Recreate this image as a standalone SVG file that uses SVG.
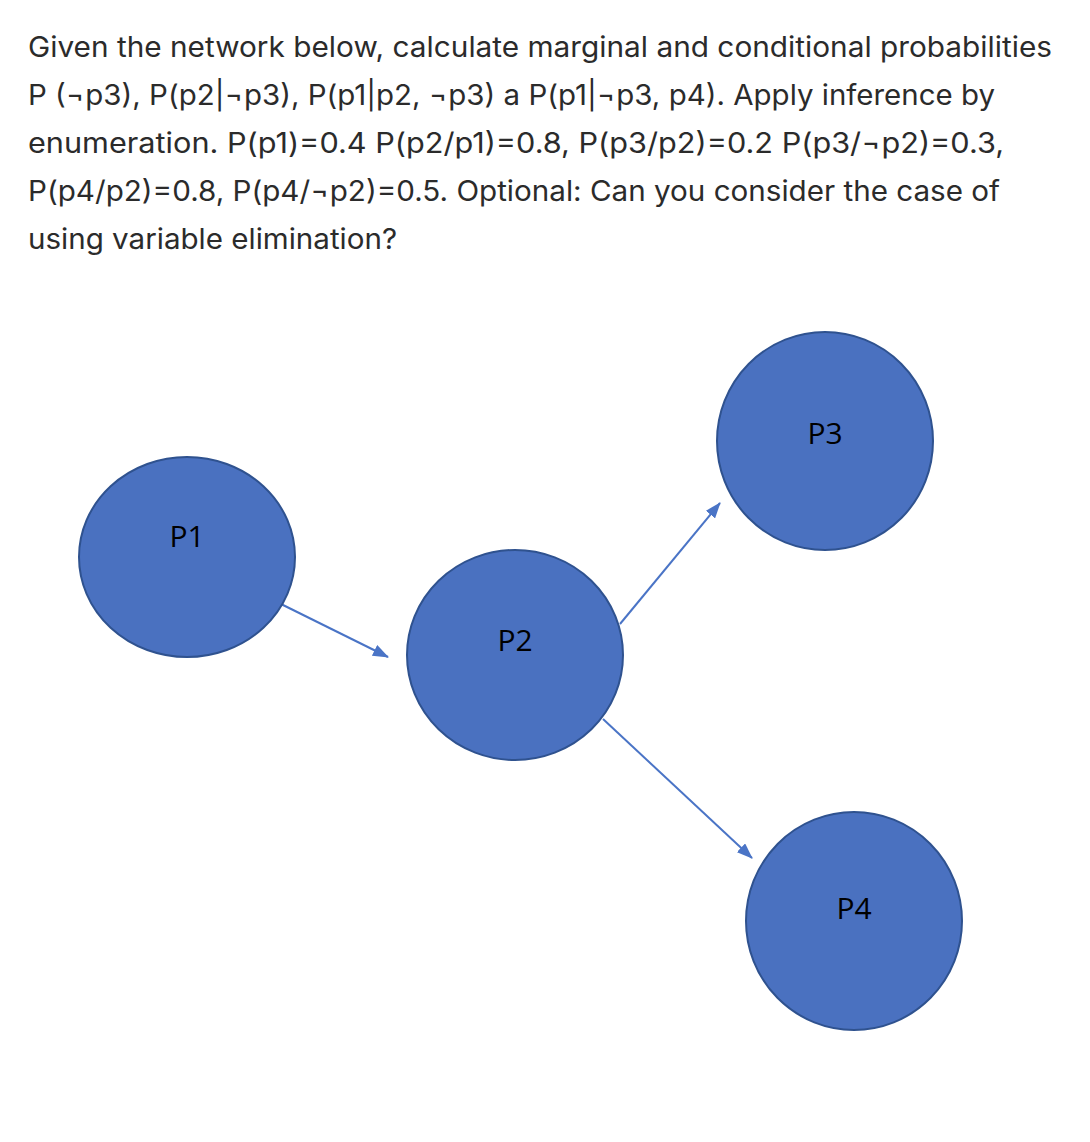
<svg xmlns="http://www.w3.org/2000/svg" width="1090" height="1142" viewBox="0 0 1090 1142">
<style>
.q{font-family:Inter,"Liberation Sans",sans-serif;font-size:28px;fill:#2b2b2b}
.n{fill:#4a71c0;stroke:#2f528f;stroke-width:2}
.l{font-family:"Open Sans","DejaVu Sans",sans-serif;font-size:30px;fill:#000;text-anchor:middle}
.c{stroke:#4a74c6;stroke-width:2;fill:none;marker-end:url(#a)}
</style>
<defs><marker id="a" markerWidth="16" markerHeight="12" refX="15" refY="6" orient="auto" markerUnits="userSpaceOnUse" viewBox="0 0 16 12"><path d="M0,0 L16,6 L0,12 z" fill="#4a74c6"/></marker></defs>
<rect width="1090" height="1142" fill="#fff"/>
<g id="question">
<text class="q" x="28" y="57" textLength="1024" lengthAdjust="spacingAndGlyphs">Given the network below, calculate marginal and conditional probabilities</text>
<text class="q" x="28" y="105" textLength="967" lengthAdjust="spacingAndGlyphs">P (¬p3), P(p2|¬p3), P(p1|p2, ¬p3) a P(p1|¬p3, p4). Apply inference by</text>
<text class="q" x="28" y="153" textLength="976" lengthAdjust="spacingAndGlyphs">enumeration. P(p1)=0.4 P(p2/p1)=0.8, P(p3/p2)=0.2 P(p3/¬p2)=0.3,</text>
<text class="q" x="28" y="201" textLength="972" lengthAdjust="spacingAndGlyphs">P(p4/p2)=0.8, P(p4/¬p2)=0.5. Optional: Can you consider the case of</text>
<text class="q" x="28" y="249" textLength="369" lengthAdjust="spacingAndGlyphs">using variable elimination?</text>
</g>
<g id="connectors">
<line class="c" x1="281" y1="604" x2="388" y2="657"/>
<line class="c" x1="620" y1="624" x2="720" y2="503"/>
<line class="c" x1="603" y1="719" x2="752" y2="858"/>
</g>
<g id="P1"><ellipse class="n" cx="187" cy="557" rx="108" ry="100"/><text class="l" x="187" y="547">P1</text></g>
<g id="P2"><ellipse class="n" cx="515" cy="655" rx="108" ry="105"/><text class="l" x="515" y="651">P2</text></g>
<g id="P3"><ellipse class="n" cx="825" cy="441" rx="108" ry="109"/><text class="l" x="825" y="444">P3</text></g>
<g id="P4"><ellipse class="n" cx="854" cy="921" rx="108" ry="109"/><text class="l" x="854" y="919">P4</text></g>
</svg>
